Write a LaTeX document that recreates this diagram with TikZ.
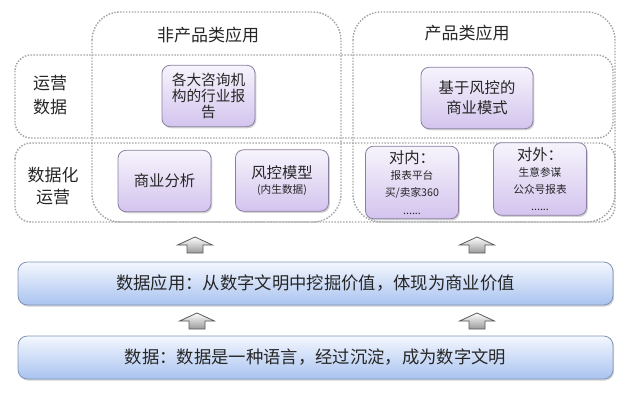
\documentclass[tikz,border=0pt]{standalone}
\usepackage{fontspec}
\setmainfont{Noto Sans CJK SC}
\usetikzlibrary{shadows}

\definecolor{framegray}{HTML}{A4A4A4}
\definecolor{pboxline}{HTML}{8A7F9E}
\definecolor{pboxtop}{HTML}{F7F4FC}
\definecolor{pboxbot}{HTML}{D3C4EE}
\definecolor{barline}{HTML}{8294B6}
\definecolor{bartop}{HTML}{F4F7FE}
\definecolor{barbot}{HTML}{A9C3F0}
\definecolor{arrline}{HTML}{5A5A5A}
\definecolor{txt}{HTML}{262626}

\newcommand{\smalltxt}{\fontsize{8}{11.5}\selectfont}

\begin{document}
\begin{tikzpicture}[x=0.75pt, y=-0.75pt,
        frame/.style={draw=framegray, line width=1.1pt, dash pattern=on 1.1pt off 1.1pt},
        pbox/.style={draw=pboxline, line width=0.6pt, rounded corners=6pt, top color=pboxtop, bottom color=pboxbot,
                drop shadow={shadow xshift=1pt, shadow yshift=-1.2pt, opacity=0.35, fill=black!50},
                minimum width=69.75pt, minimum height=46pt, align=center, text=txt,
                font=\fontsize{11}{12}\selectfont},
        bar/.style={draw=barline, line width=0.6pt, rounded corners=7pt, top color=bartop, bottom color=barbot,
                drop shadow={shadow xshift=0.8pt, shadow yshift=-1.2pt, opacity=0.35, fill=black!50},
                minimum width=446.25pt, minimum height=32.25pt, text=txt,
                font=\fontsize{13}{15}\selectfont},
        label/.style={align=center, text=txt, font=\fontsize{12.75}{18}\selectfont},
        blockarrow/.style={draw=arrline, line width=0.6pt, top color=white, bottom color=black!40, line join=miter}]

        \useasboundingbox (0,0) rectangle (630,402);

        \draw [frame, rounded corners=21pt] (92,12) rectangle (341,222);
        \draw [frame, rounded corners=21pt] (353,12) rectangle (615,222);
        \draw [frame, rounded corners=12pt] (15,55) rectangle (613,138);
        \draw [frame, rounded corners=12pt] (15,143) rectangle (615,222);

        \node[label] (nonprod) at (208,35) {非产品类应用};
        \node[label] (prod) at (467,33) {产品类应用};
        \node[label] (opdata) at (50,95) {运营\\数据};
        \node[label, font=\fontsize{12.75}{16.5}\selectfont] (dataop) at (53,186) {数据化\\运营};

        \node[pbox] (report) at (208.5,96) {各大咨询机\\构的行业报\\告};
        \node[pbox] (bizmodel) at (477,98) [minimum width=84pt, font=\fontsize{11.5}{15}\selectfont] {基于风控的\\商业模式};

        \node[pbox] (analysis) at (164.5,181) [font=\fontsize{11.5}{13}\selectfont] {商业分析};
        \node[pbox] (riskmodel) at (282,180.5) [font=\fontsize{11.5}{13}\selectfont] {风控模型\\[-2pt]\smalltxt (内生数据)};
        \node[pbox] (inside) at (412,182.5) [font=\fontsize{11.5}{13}\selectfont] {对内：\\[-1pt]\smalltxt 报表平台\\\smalltxt 买/卖家360\\\smalltxt ......};
        \node[pbox] (outside) at (540,179) [font=\fontsize{11.5}{13}\selectfont] {对外：\\[-1pt]\smalltxt 生意参谋\\\smalltxt 公众号报表\\\smalltxt ......};

        \node[bar] (app) at (315.5,283.5) {数据应用：从数字文明中挖掘价值，体现为商业价值};
        \node[bar] (data) at (315.5,357.5) {数据：数据是一种语言，经过沉淀，成为数字文明};

        \draw[blockarrow] (195,237) -- ++(17.5,8) -- ++(-9.5,0) -- ++(0,8) -- ++(-16,0) -- ++(0,-8) -- ++(-9.5,0) -- cycle;
        \draw[blockarrow] (477,237) -- ++(17.5,8) -- ++(-9.5,0) -- ++(0,8) -- ++(-16,0) -- ++(0,-8) -- ++(-9.5,0) -- cycle;
        \draw[blockarrow] (197,313) -- ++(17.5,8) -- ++(-9.5,0) -- ++(0,8) -- ++(-16,0) -- ++(0,-8) -- ++(-9.5,0) -- cycle;
        \draw[blockarrow] (477,313) -- ++(17.5,8) -- ++(-9.5,0) -- ++(0,8) -- ++(-16,0) -- ++(0,-8) -- ++(-9.5,0) -- cycle;

    \end{tikzpicture}
\end{document}
